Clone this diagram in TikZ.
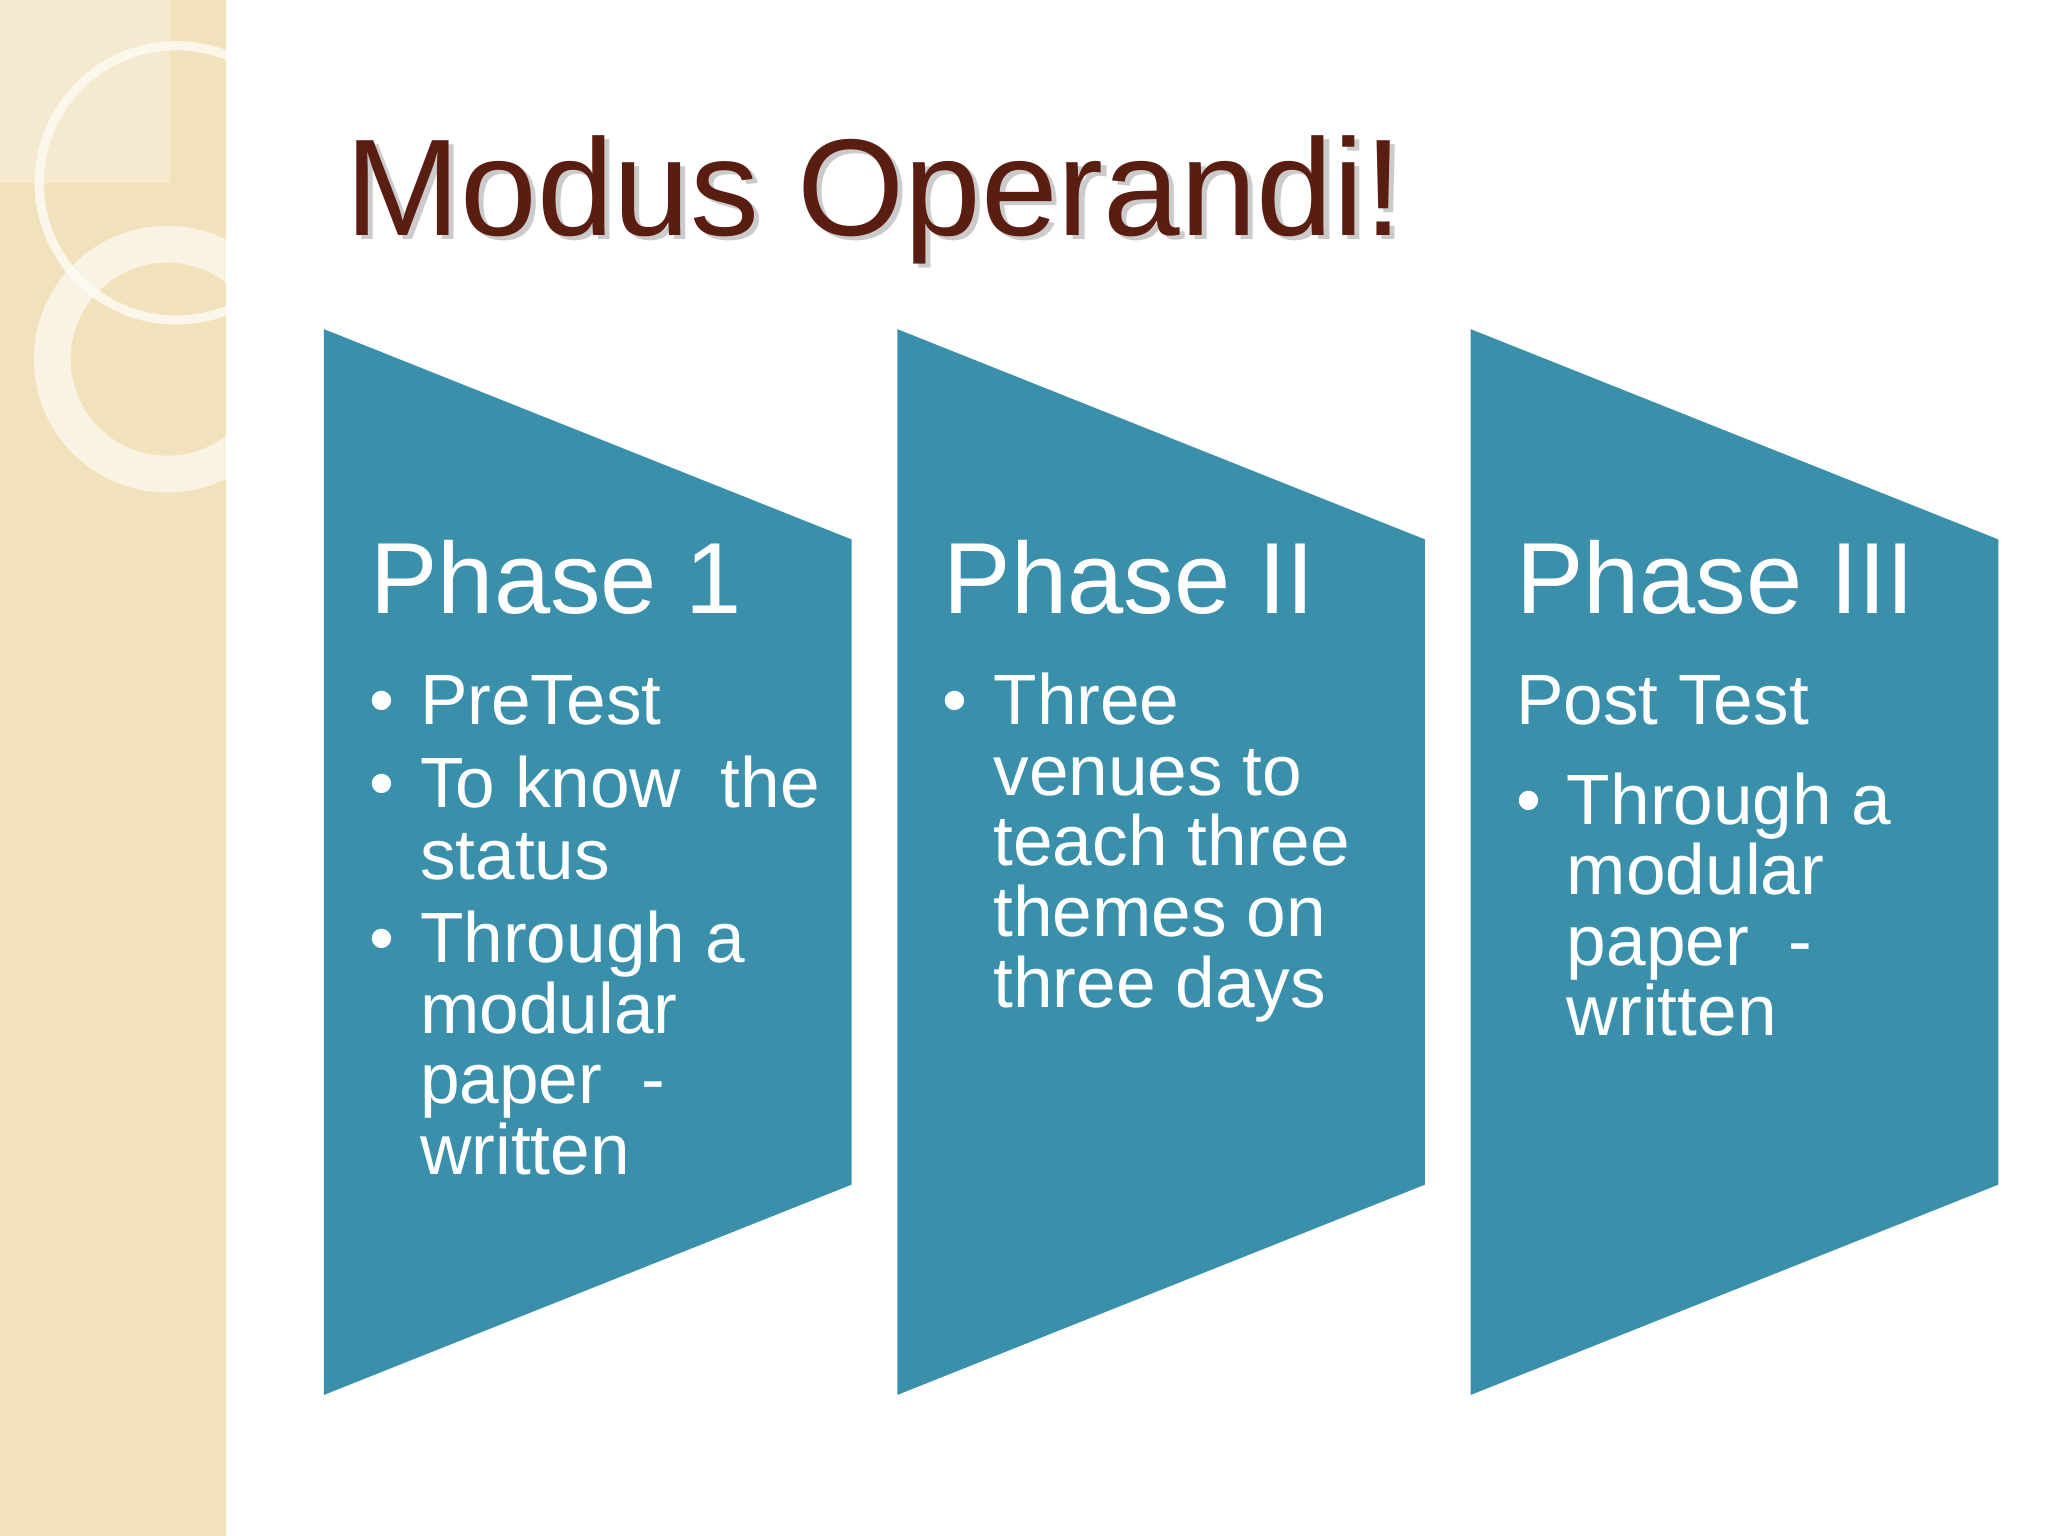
\documentclass[tikz,border=0pt]{standalone}
\usepackage{fontspec}
\setmainfont{Liberation Sans}
\definecolor{beige}{HTML}{F2E2BC}
\definecolor{teal}{HTML}{3A90AB}
\definecolor{brown}{HTML}{5A1D12}
\tikzset{phase/.style={fill=teal,draw=none},
 ph/.style={anchor=base west,text=white,font=\fontsize{22}{26}\selectfont,inner sep=0},
 tx/.style={anchor=base west,text=white,font=\fontsize{15.5}{18}\selectfont,inner sep=0},
 ring/.style={draw=white!85!beige,line width=#1}}
\begin{document}
\begin{tikzpicture}[x=0.01cm,y=-0.01cm]
\useasboundingbox (0,0) rectangle (1568,1176);
\fill[white] (0,0) rectangle (1568,1176);
\fill[beige] (0,0) rectangle (173,1176);
\begin{scope}
\clip (0,0) rectangle (173,1176);
\fill[white,opacity=0.3] (0,0) rectangle (130,140);
\draw[ring=2pt,opacity=0.8] (135,140) circle (105);
\draw[ring=8pt,opacity=0.7] (128,275) circle (88);
\end{scope}
\node[anchor=base west,inner sep=0,text=black!40,opacity=0.5,font=\fontsize{30}{36}\selectfont] at (268,183) {Modus Operandi!};
\node[anchor=base west,inner sep=0,text=brown,font=\fontsize{30}{36}\selectfont] (title) at (264,180) {Modus Operandi!};
\foreach \i/\dx in {a/0,b/439,c/878}{
 \fill[phase] (248+\dx,252) -- (652+\dx,413) -- (652+\dx,907) -- (248+\dx,1068) -- cycle;
}
\node[ph] (p1) at (283,470) {Phase 1};
\node[tx] at (282,555) {•}; \node[tx] at (321,555) {PreTest};
\node[tx] at (282,618) {•}; \node[tx] at (321,618) {To know\ \ the};
\node[tx] at (321,673) {status};
\node[tx] at (282,737) {•}; \node[tx] at (321,737) {Through a};
\node[tx] at (321,791) {modular};
\node[tx] at (321,845) {paper\ \ -};
\node[tx] at (321,899) {written};
\node[ph] (p2) at (722,470) {Phase II};
\node[tx] at (721,555) {•}; \node[tx] at (760,555) {Three};
\node[tx] at (760,609) {venues to};
\node[tx] at (760,663) {teach three};
\node[tx] at (760,717) {themes on};
\node[tx] at (760,771) {three days};
\node[ph] (p3) at (1160,470) {Phase III};
\node[tx] at (1160,555) {Post Test};
\node[tx] at (1160,631) {•}; \node[tx] at (1199,631) {Through a};
\node[tx] at (1199,685) {modular};
\node[tx] at (1199,739) {paper\ \ -};
\node[tx] at (1199,793) {written};
\end{tikzpicture}
\end{document}
